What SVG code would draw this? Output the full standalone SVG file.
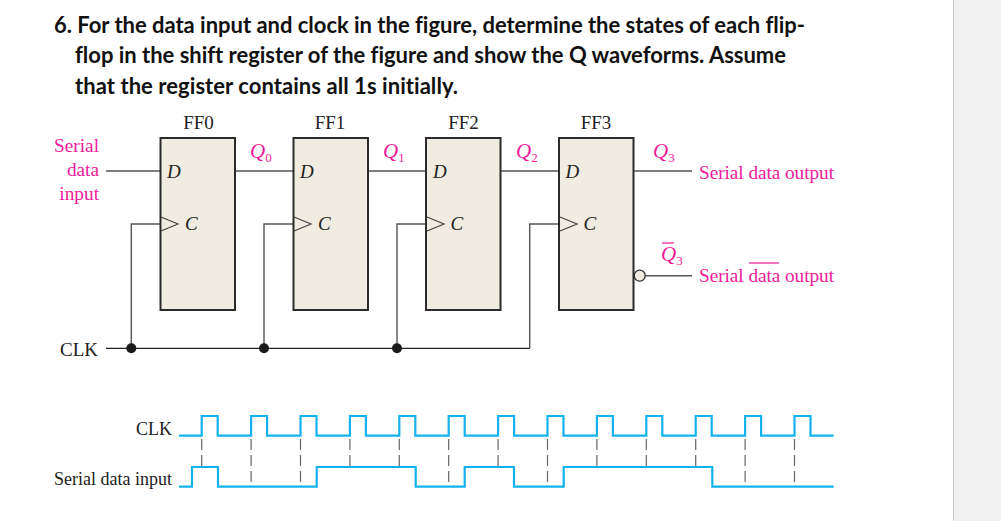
<svg xmlns="http://www.w3.org/2000/svg" width="1001" height="521" viewBox="0 0 1001 521">
<style>
.q{font-family:"Lato","Liberation Sans",sans-serif;font-weight:700;font-size:22px;fill:#111;font-variant-ligatures:none}
.s{font-family:"Liberation Serif",serif;font-size:19px;fill:#222}
.m{font-size:18px}
.p{font-family:"Liberation Serif",serif;font-size:19.300px;fill:#ee1a9a}
.i{font-style:italic}
.b{font-size:21px}
.sub{font-size:13px;font-style:normal}
.box{fill:#f0ece2;stroke:#2b2b2b;stroke-width:2}
.w{fill:none;stroke:#555;stroke-width:1.4}
.k{fill:none;stroke:#222;stroke-width:1.3}
.t{fill:none;stroke:#444;stroke-width:1.2}
.wave{fill:none;stroke:#12b2ee;stroke-width:2.2}
.dash{stroke:#666;stroke-width:1.2;stroke-dasharray:11 5}
</style>
<rect width="1001" height="521" fill="#fff"/>
<rect x="953" y="0" width="48" height="521" fill="#f0f0f0"/>
<line x1="953.5" y1="0" x2="953.5" y2="521" stroke="#c8c8c8"/>
<g id="question">
<text class="q" x="54" y="33" textLength="751" lengthAdjust="spacing">6. For the data input and clock in the figure, determine the states of each flip-</text>
<text class="q" x="75" y="63" textLength="711" lengthAdjust="spacing">flop in the shift register of the figure and show the Q waveforms. Assume</text>
<text class="q" x="75" y="94" textLength="383" lengthAdjust="spacing">that the register contains all 1s initially.</text>
</g>
<g id="connectors">
<path class="w" d="M106 171H160M235 171H293M368 171H426M500 171H559M633 171H692M645 275.7H692"/>
<path class="w" d="M160 224H131.3V348M293 224H264V348M426 224H397V348M559 224H529.7V348.3"/>
<path class="k" d="M106 348.3H529.7"/>
<circle cx="131.3" cy="348.3" r="5" fill="#1a1a1a"/>
<circle cx="264" cy="348.3" r="5" fill="#1a1a1a"/>
<circle cx="397" cy="348.3" r="5" fill="#1a1a1a"/>
</g>
<g id="ff0">
<rect class="box" x="160.5" y="138" width="74.5" height="172"/>
<path class="t" d="M161 217L178 224L161 231"/>
<text class="s i" x="167" y="178">D</text><text class="s i" x="185" y="230">C</text>
<text class="s" x="198.500" y="129" text-anchor="middle">FF0</text>
</g>
<g id="ff1">
<rect class="box" x="293.500" y="138" width="74.500" height="172"/>
<path class="t" d="M294 217L311 224L294 231"/>
<text class="s i" x="300" y="178">D</text><text class="s i" x="318" y="230">C</text>
<text class="s" x="330" y="129" text-anchor="middle">FF1</text>
</g>
<g id="ff2">
<rect class="box" x="426" y="138" width="74.500" height="172"/>
<path class="t" d="M427 217L444 224L427 231"/>
<text class="s i" x="433" y="178">D</text><text class="s i" x="450.500" y="230">C</text>
<text class="s" x="463.500" y="129" text-anchor="middle">FF2</text>
</g>
<g id="ff3">
<rect class="box" x="559" y="138" width="74.500" height="172"/>
<path class="t" d="M560 217L577 224L560 231"/>
<text class="s i" x="565.500" y="178">D</text><text class="s i" x="583.500" y="230">C</text>
<text class="s" x="596" y="129" text-anchor="middle">FF3</text>
<circle cx="639.700" cy="275.700" r="5.500" fill="#f0ece2" stroke="#2b2b2b" stroke-width="1.300"/>
</g>
<g id="labels">
<text class="p" x="99" y="152" text-anchor="end">Serial</text>
<text class="p" x="99" y="176" text-anchor="end">data</text>
<text class="p" x="99" y="200" text-anchor="end">input</text>
<text class="s" x="98" y="355.500" text-anchor="end">CLK</text>
<text class="p i b" x="250" y="158">Q<tspan class="sub" dy="4">0</tspan></text>
<text class="p i b" x="383" y="158">Q<tspan class="sub" dy="4">1</tspan></text>
<text class="p i b" x="516" y="158">Q<tspan class="sub" dy="4">2</tspan></text>
<text class="p i b" x="653" y="158">Q<tspan class="sub" dy="4">3</tspan></text>
<text class="p i b" x="661" y="261">Q<tspan class="sub" dy="4">3</tspan></text>
<line x1="662" y1="243" x2="674" y2="243" stroke="#ee1a9a" stroke-width="1.200"/>
<text class="p" x="699" y="178.500" textLength="135">Serial data output</text>
<text class="p" x="699" y="281.500" textLength="135">Serial data output</text>
<line x1="749" y1="263" x2="779" y2="263" stroke="#ee1a9a" stroke-width="1.200"/>
<text class="s m" x="172" y="434.500" text-anchor="end">CLK</text>
<text class="s m" x="172" y="485" text-anchor="end">Serial data input</text>
</g>
<g id="waveforms">
<path class="dash" d="M201.700 439V467M251.100 439V486.700M300.500 439V486.700M349.900 439V467M399.300 439V467M448.700 439V486.700M498.100 439V467M547.500 439V486.700M596.900 439V467M646.300 439V467M695.700 439V467M745.100 439V486.700M794.500 439V486.700"/>
<path class="wave" d="M179 435.700H201.700V416H217.700V435.700H251.100V416H267.100V435.700H300.500V416H316.500V435.700H349.900V416H365.900V435.700H399.300V416H415.300V435.700H448.700V416H464.700V435.700H498.100V416H514.100V435.700H547.500V416H563.500V435.700H596.900V416H612.900V435.700H646.300V416H662.300V435.700H695.700V416H711.700V435.700H745.100V416H761.100V435.700H794.500V416H810.500V435.700H833.700"/>
<path class="wave" d="M179 486.700H192V467H218V486.700H316.700V467H415.700V486.700H464.700V467H514V486.700H563.700V467H712.300V486.700H833.700"/>
</g>
</svg>
